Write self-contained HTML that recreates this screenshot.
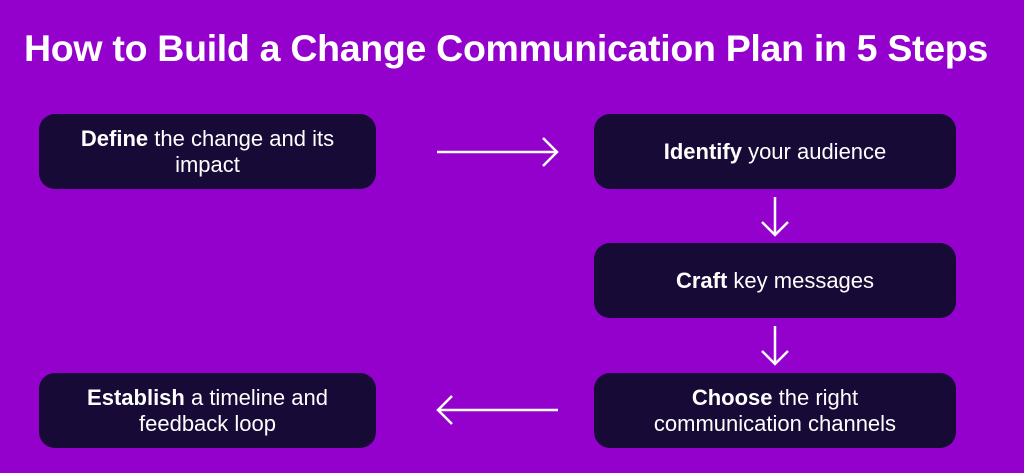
<!DOCTYPE html>
<html><head><style>
body{margin:0;width:1024px;height:473px;background:#9501CC;font-family:"Liberation Sans",sans-serif;position:relative;overflow:hidden}
h1{position:absolute;left:0;width:1012px;top:27px;margin:0;text-align:center;color:#fff;font-size:37.5px;font-weight:bold;letter-spacing:-0.3px;white-space:nowrap}
.b{position:absolute;background:#180A36;border-radius:16px;color:#fff;font-size:22px;display:flex;align-items:center;justify-content:center;text-align:center;line-height:26px}
.b b{font-weight:bold}
svg{position:absolute;left:0;top:0}
</style></head><body>
<h1>How to Build a Change Communication Plan in 5 Steps</h1>
<div class="b" style="left:39px;top:114px;width:337px;height:75px"><span><b>Define</b> the change and its<br>impact</span></div>
<div class="b" style="left:594px;top:114px;width:362px;height:75px"><span><b>Identify</b> your audience</span></div>
<div class="b" style="left:594px;top:243px;width:362px;height:75px"><span><b>Craft</b> key messages</span></div>
<div class="b" style="left:594px;top:373px;width:362px;height:75px"><span><b>Choose</b> the right<br>communication channels</span></div>
<div class="b" style="left:39px;top:373px;width:337px;height:75px"><span><b>Establish</b> a timeline and<br>feedback loop</span></div>
<svg width="1024" height="473" fill="none" stroke="#fff" stroke-width="2.5">
<path d="M437 152H557M543 138L557 152L543 166"/>
<path d="M775 197V235M762 222L775 235L788 222"/>
<path d="M775 326V364M762 351L775 364L788 351"/>
<path d="M558 410H438M452 396L438 410L452 424"/>
</svg>
</body></html>
